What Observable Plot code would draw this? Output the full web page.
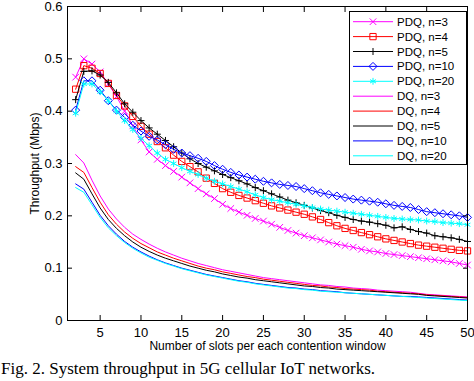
<!DOCTYPE html>
<html><head><meta charset="utf-8">
<script src="https://cdn.jsdelivr.net/npm/d3@7"></script>
<script src="https://cdn.jsdelivr.net/npm/@observablehq/plot@0.6"></script>
<style>
body{margin:0;background:#fff;}
#wrap{position:relative;width:474px;height:381px;overflow:hidden;background:#fff;}
#caption{position:absolute;left:1px;top:359px;font-family:"Liberation Serif","Times New Roman",serif;font-size:17px;line-height:20px;white-space:nowrap;color:#000;}
#legend{position:absolute;left:349px;top:11px;}
</style></head><body>
<div id="wrap"><div id="chart"></div><svg id="legend" width="119" height="155"></svg><div id="caption">Fig. 2. System throughput in 5G cellular IoT networks.</div></div>
<script>
const slots = [2,3,4,5,6,7,8,9,10,11,12,13,14,15,16,17,18,19,20,21,22,23,24,25,26,27,28,29,30,31,32,33,34,35,36,37,38,39,40,41,42,43,44,45,46,47,48,49,50];
const xTicks = [5,10,15,20,25,30,35,40,45,50];
const yTicks = [0,0.1,0.2,0.3,0.4,0.5,0.6];
const xLabel = "Number of slots per each contention window";
const yLabel = "Throughput (Mbps)";
const seriesNames = ["PDQ, n=3","PDQ, n=4","PDQ, n=5","PDQ, n=10","PDQ, n=20","DQ, n=3","DQ, n=4","DQ, n=5","DQ, n=10","DQ, n=20"];

const pdq3 = [.465,.500,.490,.475,.452,.428,.400,.372,.345,.322,.308,.296,.285,.274,.263,.252,.242,.233,.222,.214,.207,.201,.195,.190,.184,.178,.172,.167,.162,.158,.154,.150,.146,.143,.140,.136,.133,.131,.128,.126,.124,.122,.120,.118,.116,.114,.112,.109,.106];
const pdq4 = [.442,.487,.482,.472,.453,.430,.410,.390,.371,.356,.342,.330,.316,.304,.294,.284,.272,.262,.252,.245,.239,.234,.229,.224,.219,.215,.211,.207,.203,.198,.193,.187,.181,.176,.172,.168,.164,.160,.156,.153,.150,.147,.144,.142,.140,.138,.136,.134,.133];
const pdq5 = [.422,.476,.477,.469,.455,.435,.414,.398,.382,.368,.356,.344,.332,.320,.309,.300,.293,.286,.279,.273,.267,.261,.254,.248,.242,.236,.230,.225,.220,.215,.210,.206,.201,.197,.193,.190,.188,.185,.182,.177,.179,.174,.170,.167,.162,.160,.158,.155,.151];
const pdq10 = [.402,.458,.458,.440,.420,.402,.388,.373,.362,.352,.345,.336,.327,.320,.315,.310,.304,.296,.289,.283,.278,.274,.270,.266,.263,.260,.258,.256,.252,.248,.244,.241,.238,.235,.232,.230,.228,.226,.223,.220,.218,.216,.212,.208,.206,.204,.202,.200,.197];
const pdq20 = [.396,.452,.452,.437,.420,.400,.382,.365,.348,.334,.320,.308,.300,.292,.285,.279,.272,.266,.261,.256,.251,.246,.240,.235,.231,.228,.225,.222,.219,.216,.213,.211,.209,.207,.205,.203,.201,.199,.197,.195,.194,.193,.192,.190,.189,.187,.186,.185,.183];
const dq3 = [.317,.301,.268,.238,.213,.194,.178,.165,.155,.146,.138,.131,.125,.119,.114,.109,.105,.101,.097,.094,.091,.088,.085,.082,.080,.078,.076,.074,.072,.070,.068,.067,.065,.064,.062,.061,.060,.058,.057,.056,.055,.054,.052,.050,.049,.048,.047,.046,.045];
const dq4 = [.294,.283,.254,.226,.202,.184,.169,.157,.147,.139,.131,.125,.119,.114,.109,.104,.100,.097,.093,.090,.087,.084,.082,.079,.077,.075,.073,.071,.069,.067,.066,.064,.063,.061,.060,.059,.058,.056,.055,.054,.053,.052,.051,.049,.048,.047,.046,.045,.044];
const dq5 = [.282,.270,.242,.215,.193,.176,.162,.150,.140,.132,.125,.119,.114,.109,.104,.100,.096,.093,.089,.086,.083,.081,.078,.076,.074,.072,.070,.068,.066,.065,.063,.062,.060,.059,.058,.057,.056,.055,.054,.053,.052,.051,.050,.048,.047,.046,.045,.044,.043];
const dq10 = [.261,.251,.226,.201,.181,.165,.151,.140,.131,.123,.116,.110,.105,.100,.096,.092,.088,.085,.082,.079,.076,.074,.071,.069,.067,.065,.063,.062,.060,.059,.057,.056,.055,.053,.052,.051,.050,.049,.048,.047,.046,.046,.045,.044,.043,.042,.041,.040,.039];
const dq20 = [.254,.245,.221,.197,.177,.162,.149,.138,.129,.121,.115,.109,.104,.099,.095,.091,.087,.084,.081,.078,.075,.073,.070,.068,.066,.064,.062,.061,.059,.058,.056,.055,.054,.053,.052,.051,.050,.049,.048,.047,.046,.045,.044,.043,.042,.041,.040,.039,.038];

const colors = ["#ff00ff","#ff0000","#000000","#0000ff","#00ffff","#ff00ff","#ff0000","#000000","#0000ff","#00ffff"];
const symbols = ["times","square2","plus","diamond2","asterisk",null,null,null,null,null];
const radii = [3.1,4,2.4,3.6,3.2,0,0,0,0,0];
const valueLists = [pdq3,pdq4,pdq5,pdq10,pdq20,dq3,dq4,dq5,dq10,dq20];

const series = seriesNames.map((name,i)=>({name, color:colors[i], symbol:symbols[i], r:radii[i],
  data: slots.map((x,j)=>({x, y:valueLists[i][j]}))}));

const marks = [];
for (const s of series) {
  marks.push(Plot.line(s.data, {x:"x", y:"y", stroke:s.color, strokeWidth:1}));
  if (s.symbol) marks.push(Plot.dot(s.data, {x:"x", y:"y", symbol:s.symbol, r:s.r, stroke:s.color, fill:"none", strokeWidth:1}));
}
const yFmt = d => d === 0 ? "0" : d3.format(".1f")(d);
marks.push(
  Plot.frame({stroke:"#000", strokeWidth:1}),
  Plot.axisX(xTicks, {anchor:"bottom", tickSize:-5, tickPadding:12, label:null, tickFormat:d=>String(d)}),
  Plot.axisX(xTicks, {anchor:"top", tickSize:-5, label:null, tickFormat:()=>""}),
  Plot.axisY(yTicks, {anchor:"left", tickSize:-5, tickPadding:10, label:null, tickFormat:yFmt}),
  Plot.axisY(yTicks, {anchor:"right", tickSize:-5, label:null, tickFormat:()=>""}),
  Plot.text([xLabel], {frameAnchor:"bottom", dy:29, fontSize:12, textAnchor:"middle", text:d=>d}),
  Plot.text([yLabel], {frameAnchor:"left", dx:-32, rotate:-90, fontSize:12, textAnchor:"middle", text:d=>d})
);

const chart = Plot.plot({
  width:474, height:356,
  marginLeft:67, marginRight:7, marginTop:6, marginBottom:36,
  style:{fontFamily:"'Liberation Sans', Arial, sans-serif", fontSize:"13px", color:"#000", background:"#fff", overflow:"visible"},
  x:{domain:[1,50]},
  y:{domain:[0,0.6]},
  marks
});
document.getElementById("chart").appendChild(chart);

// legend
const symMap = {times:d3.symbolTimes, square2:d3.symbolSquare2, plus:d3.symbolPlus, diamond2:d3.symbolDiamond2, asterisk:d3.symbolAsterisk};
const lg = d3.select("#legend");
lg.append("rect").attr("x",0.5).attr("y",0.5).attr("width",117).attr("height",153).attr("fill","#fff").attr("stroke","#000").attr("stroke-width",1);
series.forEach((s,i)=>{
  const cy = 10.7 + i*14.9;
  const g = lg.append("g").attr("transform",`translate(0,${cy})`);
  g.append("line").attr("x1",4).attr("x2",44).attr("y1",0).attr("y2",0).attr("stroke",s.color).attr("stroke-width",1);
  if (s.symbol) g.append("path").attr("transform","translate(24,0)").attr("d", d3.symbol(symMap[s.symbol], Math.PI*s.r*s.r)()).attr("fill","none").attr("stroke",s.color).attr("stroke-width",1);
  g.append("text").attr("x",48).attr("y",0).attr("dy","0.35em").attr("font-family","'Liberation Sans', Arial, sans-serif").attr("font-size","11.5px").attr("fill","#000").text(s.name);
});
</script>
</body></html>
